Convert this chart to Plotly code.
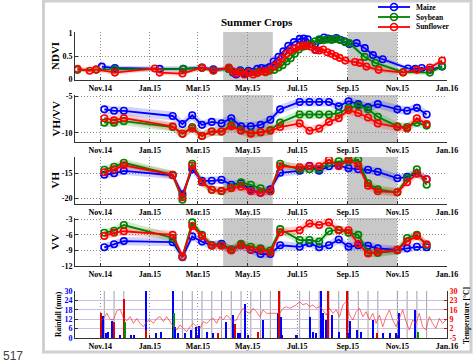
import pandas as pd
import plotly.graph_objects as go

W, H = 474, 362

# ---------------- data ----------------
CROPS = ["Maize", "Soybean", "Sunflower"]
COLORS = {"Maize": "#0000ff", "Soybean": "#008000", "Sunflower": "#ff0000"}
BANDS = {"Maize": "rgba(0,0,255,0.18)", "Soybean": "rgba(0,170,0,0.2)", "Sunflower": "rgba(255,0,0,0.18)"}

TICK_DATES = ["2014-11-01", "2015-01-01", "2015-03-01", "2015-05-01", "2015-07-01",
              "2015-09-01", "2015-11-01", "2016-01-01"]
TICK_LABELS = ["Nov.14", "Jan.15", "Mar.15", "May.15", "Jul.15", "Sep.15", "Nov.15", "Jan.16"]
X_RANGE = ["2014-10-01", "2016-01-01"]
SHADED_PERIODS = [("2015-04-01", "2015-06-01"), ("2015-09-01", "2015-11-01")]

# NDVI (optical acquisitions)
NDVI_MAIZE_DATES = ["2014-11-03", "2014-11-19", "2015-01-13", "2015-02-11", "2015-03-06", "2015-03-20",
                    "2015-04-08", "2015-04-13", "2015-04-17", "2015-04-22", "2015-04-27", "2015-05-02",
                    "2015-05-08", "2015-05-13", "2015-05-18", "2015-05-23", "2015-05-28", "2015-06-02",
                    "2015-06-08", "2015-06-14", "2015-06-20", "2015-06-27", "2015-07-04", "2015-07-09",
                    "2015-07-14", "2015-07-19", "2015-07-24", "2015-07-29", "2015-08-03", "2015-08-08",
                    "2015-08-13", "2015-08-18", "2015-08-23", "2015-08-28", "2015-09-03", "2015-09-12",
                    "2015-09-22", "2015-10-02", "2015-10-14", "2015-11-14", "2015-11-23", "2015-12-01",
                    "2015-12-11", "2015-12-26"]
NDVI_MAIZE = [0.27, 0.24, 0.22, 0.22, 0.25, 0.21,
              0.22, 0.14, 0.10, 0.19, 0.13, 0.18,
              0.16, 0.22, 0.24, 0.23, 0.26, 0.38,
              0.48, 0.60, 0.72, 0.80, 0.87, 0.88,
              0.86, 0.76, 0.63, 0.84, 0.90, 0.88,
              0.86, 0.89, 0.85, 0.82, 0.76, 0.78,
              0.67, 0.52, 0.43, 0.23, 0.22, 0.24,
              0.20, 0.27]
NDVI_SOY_DATES = ["2014-10-04", "2014-10-27", "2014-11-19", "2015-02-11", "2015-03-06", "2015-03-20",
                  "2015-04-08", "2015-04-13", "2015-04-22", "2015-05-02", "2015-05-13", "2015-05-23",
                  "2015-05-28", "2015-06-03", "2015-06-08", "2015-06-13", "2015-06-18", "2015-06-23",
                  "2015-06-28", "2015-07-03", "2015-07-08", "2015-07-13", "2015-07-18", "2015-07-23",
                  "2015-07-28", "2015-08-02", "2015-08-07", "2015-08-12", "2015-08-17", "2015-08-22",
                  "2015-08-29", "2015-09-03", "2015-09-22", "2015-10-05", "2015-11-08", "2015-12-11",
                  "2015-12-26"]
NDVI_SOY = [0.20, 0.20, 0.21, 0.22, 0.24, 0.19,
            0.22, 0.16, 0.17, 0.14, 0.15, 0.17,
            0.18, 0.20, 0.25, 0.30, 0.38, 0.45,
            0.55, 0.64, 0.70, 0.72, 0.76, 0.82,
            0.86, 0.84, 0.86, 0.85, 0.87, 0.85,
            0.80, 0.78, 0.48, 0.35, 0.15, 0.14,
            0.28]
NDVI_SUN_DATES = ["2014-10-04", "2014-10-19", "2014-10-27", "2014-11-19", "2015-01-07", "2015-01-13",
                  "2015-02-10", "2015-03-06", "2015-03-20", "2015-04-08", "2015-04-13", "2015-04-17",
                  "2015-04-22", "2015-04-27", "2015-05-02", "2015-05-08", "2015-05-13", "2015-05-18",
                  "2015-05-23", "2015-05-28", "2015-06-03", "2015-06-08", "2015-06-13", "2015-06-18",
                  "2015-06-23", "2015-06-28", "2015-07-03", "2015-07-08", "2015-07-13", "2015-07-18",
                  "2015-07-23", "2015-07-28", "2015-08-02", "2015-08-07", "2015-08-12", "2015-08-17",
                  "2015-08-22", "2015-08-29", "2015-09-10", "2015-09-16", "2015-09-24", "2015-10-09",
                  "2015-11-08", "2015-11-25", "2015-12-11", "2015-12-26"]
NDVI_SUN = [0.22, 0.18, 0.21, 0.14, 0.23, 0.14,
            0.12, 0.25, 0.18, 0.25, 0.17, 0.12,
            0.15, 0.10, 0.14, 0.10, 0.13, 0.17,
            0.15, 0.20, 0.28, 0.35, 0.45, 0.55,
            0.62, 0.66, 0.70, 0.73, 0.73, 0.70,
            0.63, 0.62, 0.64, 0.58, 0.55, 0.50,
            0.46, 0.40, 0.37, 0.35, 0.27, 0.20,
            0.14, 0.20, 0.25, 0.40]

# Sentinel-1 acquisitions
S1_DATES = ["2014-11-06", "2014-11-18", "2014-11-30", "2015-01-29", "2015-02-10", "2015-02-22",
            "2015-03-06", "2015-03-18", "2015-03-30", "2015-04-11", "2015-04-23", "2015-05-05",
            "2015-05-17", "2015-05-29", "2015-06-10", "2015-07-04", "2015-07-16", "2015-07-28",
            "2015-08-09", "2015-08-21", "2015-09-02", "2015-09-14", "2015-09-26", "2015-10-08",
            "2015-11-01", "2015-11-13", "2015-11-25", "2015-12-07"]
VHVV_MAIZE = [-6.8, -7.0, -7.0, -7.7, -8.8, -7.6, -8.9, -8.5, -8.7, -8.0, -9.1, -9.1, -8.9, -8.2,
              -6.8, -5.8, -5.8, -5.8, -5.8, -6.4, -5.7, -6.1, -6.5, -6.1, -6.8, -7.0, -6.6, -7.5]
VHVV_SOY = [-8.6, -8.6, -8.4, -9.2, -10.1, -9.2, -10.4, -9.8, -9.8, -8.9, -9.6, -10.0, -9.9, -9.6,
            -8.6, -7.5, -7.5, -7.5, -7.5, -7.3, -6.6, -6.3, -6.8, -7.8, -9.1, -9.2, -8.6, -9.0]
VHVV_SUN = [-8.0, -8.3, -8.0, -9.1, -10.1, -9.4, -10.4, -9.8, -9.8, -9.1, -9.7, -10.1, -9.9, -9.7,
            -9.2, -8.7, -9.7, -9.4, -8.5, -8.0, -6.9, -7.3, -7.9, -8.7, -9.2, -9.4, -8.0, -8.8]
VH_MAIZE = [-15.3, -15.0, -14.5, -15.4, -19.2, -14.2, -16.5, -16.5, -16.3, -17.3, -17.0, -18.3, -18.9, -18.2,
            -14.9, -14.5, -13.5, -14.5, -13.6, -13.4, -14.0, -14.2, -14.3, -14.7, -16.0, -15.7, -15.0, -16.2]
VH_SOY = [-14.3, -13.7, -12.9, -15.3, -20.3, -13.1, -16.8, -18.3, -18.6, -17.8, -16.8, -17.3, -18.0, -18.6,
          -13.1, -14.2, -14.2, -14.2, -13.0, -12.6, -12.6, -12.3, -17.0, -18.2, -18.8, -16.0, -14.2, -17.3]
VH_SUN = [-14.8, -14.2, -13.4, -15.3, -19.8, -13.5, -16.8, -18.3, -18.5, -18.0, -17.7, -18.6, -18.9, -18.6,
          -13.6, -13.8, -13.6, -13.6, -12.3, -13.6, -12.3, -13.4, -17.5, -18.6, -18.8, -16.8, -15.1, -16.2]
VV_MAIZE = [-8.4, -7.8, -7.2, -7.4, -10.3, -6.3, -7.3, -8.0, -7.7, -8.9, -8.0, -8.9, -9.7, -9.7,
            -8.0, -8.3, -7.6, -8.4, -8.0, -6.9, -8.3, -8.0, -8.1, -8.6, -8.9, -8.6, -8.3, -8.4]
VV_SOY = [-5.6, -5.2, -4.1, -6.6, -10.2, -3.6, -6.0, -8.0, -8.0, -8.8, -7.7, -8.3, -8.6, -9.0,
          -4.9, -7.0, -7.0, -7.3, -5.3, -5.0, -5.6, -6.0, -9.4, -9.5, -9.0, -6.6, -6.0, -8.0]
VV_SUN = [-6.2, -5.6, -5.3, -6.0, -10.2, -4.3, -6.2, -8.1, -8.1, -9.0, -8.0, -8.8, -8.9, -9.4,
          -5.5, -5.1, -3.8, -4.1, -3.6, -5.1, -5.1, -7.7, -9.6, -9.3, -8.9, -7.3, -6.2, -7.8]

# half-width of the shaded spread around each curve, per panel
SPREAD_NDVI = 0.05
SPREAD_VHVV = 0.6
SPREAD_VH = 0.8
SPREAD_VV = 0.8

# Rainfall (mm) and daily temperature
RAIN_DATES = ["2014-11-02", "2014-11-04", "2014-11-08", "2014-11-11", "2014-11-16", "2014-11-18",
              "2014-11-26", "2014-11-30", "2014-12-01", "2014-12-09", "2014-12-13", "2014-12-27",
              "2014-12-28", "2015-01-09", "2015-01-15", "2015-01-30", "2015-01-31", "2015-02-01",
              "2015-02-05", "2015-02-13", "2015-02-21", "2015-02-27", "2015-03-03", "2015-03-12",
              "2015-03-20", "2015-03-26", "2015-04-05", "2015-04-13", "2015-04-16", "2015-04-19",
              "2015-04-22", "2015-04-28", "2015-05-02", "2015-05-14", "2015-05-20", "2015-06-08",
              "2015-06-09", "2015-06-11", "2015-06-13", "2015-06-30", "2015-07-17", "2015-07-21",
              "2015-07-24", "2015-07-31", "2015-08-02", "2015-08-05", "2015-08-08", "2015-08-13",
              "2015-08-22", "2015-08-31", "2015-09-01", "2015-09-04", "2015-09-13", "2015-09-17",
              "2015-10-02", "2015-10-07", "2015-10-15", "2015-10-23", "2015-10-31", "2015-11-03",
              "2015-11-23", "2015-11-26"]
RAIN_MM = [16, 14, 3, 3.7, 11, 10,
           2, 24.6, 10, 2, 2, 35,
           5, 3, 4, 35, 16, 7,
           3, 3, 5, 7, 7.6, 4,
           3, 3, 10, 15, 9, 3,
           3, 22, 2, 4, 11.5, 16,
           35, 13.7, 2, 2, 13.7, 4,
           3, 35, 16, 11.5, 35, 15,
           4, 35, 3, 11, 5, 4,
           11.5, 3, 3, 3, 3, 16,
           18, 4]
RAIN_SOURCE = ["r", "b", "b", "b", "b", "r",
               "b", "r", "g", "b", "b", "b",
               "r", "b", "b", "b", "g", "b",
               "b", "b", "b", "b", "b", "b",
               "b", "r", "b", "b", "r", "b",
               "b", "b", "b", "r", "b", "b",
               "r", "b", "b", "b", "b", "b",
               "b", "b", "b", "b", "r", "b",
               "b", "r", "b", "b", "b", "b",
               "b", "r", "b", "b", "b", "b",
               "b", "g"]
TEMP_START = "2014-11-01"
TEMP_STEP = "98h"
TEMP_C = [7.2, 9.6, 13.4, 8.9, 8.4, 15.4, 16.4, 9.6, 7.9, 10.9,
          5.9, 9.6, 5.9, 3.4, 7.2, 8.4, 5.9, 9.6, 10.9, 7.2,
          10.9, 7.2, 3.4, 1.0, 4.7, 2.2, -0.3, 3.4, 5.9, 3.4,
          2.2, 7.2, 5.9, 8.4, 9.6, 5.9, 10.9, 8.4, 12.1, 9.6,
          7.2, 8.4, 13.4, 17.1, 14.6, 13.4, 17.1, 14.6, 10.9, 15.9,
          13.4, 13.4, 13.4, 13.4, 13.4, 17.1, 18.3, 17.1, 18.3, 19.6,
          22.1, 19.6, 20.8, 18.3, 19.6, 17.1, 18.3, 15.9, 12.1, 17.1,
          13.4, 15.9, 10.9, 19.6, 22.1, 12.1, 8.4, 14.6, 17.1, 10.9,
          14.6, 8.4, 13.4, 5.9, 12.1, 3.4, 10.9, 15.9, 8.4, 3.4,
          9.6, 15.9, 7.2, 1.0, 8.4, 5.9, 13.4, 3.4, 1.0, 10.9,
          5.9, 2.2, 9.6, 5.9, 8.4]

# ---------------- figure ----------------
SERIF = "Liberation Serif"
fig = go.Figure()


def xn(i):
    return "x" if i == 1 else f"x{i}"


def yn(i):
    return "y" if i == 1 else f"y{i}"


def px(x):
    return x / W


def py(y):
    return 1 - y / H


X0, X1 = 75, 447
PANELS = [  # (axis idx, top px, bottom px, y range, ticks, labels, title)
    (1, 32, 80, [-0.02, 1.02], [0, 0.5, 1], ["0", "0.5", "1"], "NDVI"),
    (2, 95, 142, [-11.22, -4.86], [-10, -5], ["-10", "-5"], "VH/VV"),
    (3, 157, 204, [-21.14, -11.74], [-20, -15], ["-20", "-15"], "VH"),
    (4, 218, 266, [-12, -2.75], [-12, -9, -6, -3], ["-12", "-9", "-6", "-3"], "VV"),
    (5, 291, 338, [0, 30], [0, 6, 12, 18, 24, 30], ["0", "6", "12", "18", "24", "30"], None),
]

series = {
    1: [("Maize", NDVI_MAIZE_DATES, NDVI_MAIZE), ("Soybean", NDVI_SOY_DATES, NDVI_SOY),
        ("Sunflower", NDVI_SUN_DATES, NDVI_SUN)],
    2: [("Maize", S1_DATES, VHVV_MAIZE), ("Soybean", S1_DATES, VHVV_SOY), ("Sunflower", S1_DATES, VHVV_SUN)],
    3: [("Maize", S1_DATES, VH_MAIZE), ("Soybean", S1_DATES, VH_SOY), ("Sunflower", S1_DATES, VH_SUN)],
    4: [("Maize", S1_DATES, VV_MAIZE), ("Soybean", S1_DATES, VV_SOY), ("Sunflower", S1_DATES, VV_SUN)],
}
spreads = {1: SPREAD_NDVI, 2: SPREAD_VHVV, 3: SPREAD_VH, 4: SPREAD_VV}

for idx in range(1, 5):
    xa, ya = xn(idx), yn(idx)
    sp = spreads[idx]
    for crop, d, v in series[idx]:
        up = [a + sp for a in v]
        lo = [a - sp for a in v]
        fig.add_trace(go.Scatter(x=d, y=up, xaxis=xa, yaxis=ya, mode="lines",
                                 line=dict(width=0, color=BANDS[crop]), showlegend=False,
                                 hoverinfo="skip"))
        fig.add_trace(go.Scatter(x=d, y=lo, xaxis=xa, yaxis=ya, mode="lines", fill="tonexty",
                                 fillcolor=BANDS[crop], line=dict(width=0, color=BANDS[crop]),
                                 showlegend=False, hoverinfo="skip"))
    for crop, d, v in series[idx]:
        fig.add_trace(go.Scatter(x=d, y=v, xaxis=xa, yaxis=ya, mode="lines+markers", name=crop,
                                 line=dict(color=COLORS[crop], width=1.8),
                                 marker=dict(symbol="circle-open", size=6.5, color=COLORS[crop],
                                             line=dict(width=1.6, color=COLORS[crop])),
                                 showlegend=False))

# rainfall + temperature
src_col = {"b": "#0000ff", "r": "#e00000", "g": "#009000"}
fig.add_trace(go.Bar(x=RAIN_DATES, y=RAIN_MM, xaxis="x5", yaxis="y5",
                     marker=dict(color=[src_col[s] for s in RAIN_SOURCE], line=dict(width=0)),
                     width=1.6 * 86400000, showlegend=False))
temp_dates = pd.date_range(TEMP_START, periods=len(TEMP_C), freq=TEMP_STEP)
fig.add_trace(go.Scatter(x=temp_dates, y=TEMP_C, xaxis="x5", yaxis="y6", mode="lines",
                         line=dict(color="rgba(255,40,40,0.85)", width=0.8), showlegend=False))

layout = {}
tickfont = dict(family=SERIF, size=8, color="black", weight="bold")
GRID = dict(showgrid=True, gridcolor="#8c8c8c", griddash="1px,2px", gridwidth=1)
for idx, top, bot, yr, tv, tt, lab in PANELS:
    kx = "xaxis" if idx == 1 else f"xaxis{idx}"
    ky = "yaxis" if idx == 1 else f"yaxis{idx}"
    layout[kx] = dict(
        domain=[px(X0), px(X1)], anchor=yn(idx), type="date", range=X_RANGE,
        tickvals=TICK_DATES, ticktext=TICK_LABELS, tickfont=tickfont,
        showline=True, linecolor="#333", linewidth=1, ticks="inside", ticklen=3, tickcolor="#333",
        zeroline=False, automargin=False, fixedrange=True, **GRID)
    ygrid = GRID if idx < 5 else dict(showgrid=True, gridcolor="#cbbde8", griddash="solid", gridwidth=1)
    layout[ky] = dict(
        domain=[py(bot), py(top)], anchor=xn(idx), range=yr,
        tickvals=tv, ticktext=tt, tickfont=tickfont if idx < 5 else dict(tickfont, color="#0000ff"),
        showline=True, linecolor="#333", linewidth=1, ticks="inside", ticklen=3, tickcolor="#333",
        zeroline=False, automargin=False, fixedrange=True, **ygrid)
layout["yaxis6"] = dict(overlaying="y5", side="right", anchor="x5", range=[-5, 30],
                        tickvals=[-5, 2, 9, 16, 23, 30], ticktext=["-5", "2", "9", "16", "23", "30"],
                        tickfont=dict(tickfont, color="#ff0000"), showgrid=False, zeroline=False,
                        showline=True, linecolor="#333", ticks="inside", ticklen=3, tickcolor="#ff0000",
                        automargin=False, fixedrange=True)

shapes = []
for idx in range(1, 5):
    for a, b in SHADED_PERIODS:
        shapes.append(dict(type="rect", xref=xn(idx), yref=f"{yn(idx)} domain", x0=a, x1=b, y0=0, y1=1,
                           fillcolor="#c8c8c8", line=dict(width=0), layer="below"))
for d in S1_DATES:
    shapes.append(dict(type="line", xref="x5", yref="y5 domain", x0=d, x1=d, y0=0, y1=1,
                       line=dict(color="#a0a0a0", width=1), layer="below"))
# window frame
shapes.append(dict(type="rect", xref="paper", yref="paper", x0=px(43.5), x1=px(471),
                   y0=py(352), y1=py(1), line=dict(color="#d0d0d0", width=3)))

annotations = [
    dict(text="Summer Crops", x=px(257), y=py(22), xref="paper", yref="paper", showarrow=False,
         xanchor="center", yanchor="middle",
         font=dict(family=SERIF, size=11, color="black", weight="bold")),
    dict(text="517", x=px(1), y=py(356), xref="paper", yref="paper", showarrow=False,
         xanchor="left", yanchor="middle", font=dict(family="Liberation Sans", size=12, color="#444")),
    dict(text="Rainfall (mm)", x=px(58), y=py(314), xref="paper", yref="paper", showarrow=False,
         xanchor="center", yanchor="middle", textangle=-90,
         font=dict(family=SERIF, size=7.5, color="black", weight="bold")),
    dict(text="Temperature [°C]", x=px(466), y=py(316), xref="paper", yref="paper", showarrow=False,
         xanchor="center", yanchor="middle", textangle=-90,
         font=dict(family=SERIF, size=7.5, color="black", weight="bold")),
]
for idx, top, bot, yr, tv, tt, lab in PANELS:
    if lab:
        annotations.append(dict(text=lab, x=px(55), y=py((top + bot) / 2), xref="paper", yref="paper",
                                showarrow=False, textangle=-90, xanchor="center", yanchor="middle",
                                font=dict(family=SERIF, size=11, color="black", weight="bold")))

# legend (drawn in the top-right corner like the original)
for i, crop in enumerate(CROPS):
    yc = 7 + 10 * i
    shapes.append(dict(type="line", xref="paper", yref="paper", x0=px(378), x1=px(410),
                       y0=py(yc), y1=py(yc), line=dict(color=COLORS[crop], width=1.8)))
    shapes.append(dict(type="circle", xref="paper", yref="paper", x0=px(390.5), x1=px(397.5),
                       y0=py(yc + 3.5), y1=py(yc - 3.5), fillcolor="rgba(0,0,0,0)",
                       line=dict(color=COLORS[crop], width=1.6)))
    annotations.append(dict(text=crop, x=px(414), y=py(yc), xref="paper", yref="paper", showarrow=False,
                            xanchor="left", yanchor="middle",
                            font=dict(family=SERIF, size=7.5, color="black", weight="bold")))

fig.update_layout(
    width=W, height=H, margin=dict(l=0, r=0, t=0, b=0, pad=0),
    paper_bgcolor="white", plot_bgcolor="white", showlegend=False,
    shapes=shapes, annotations=annotations, bargap=0,
    **layout,
)
fig.write_html("out.html", config={"displayModeBar": False},
               post_script="document.body.style.margin='0px';document.body.style.overflow='hidden';")
